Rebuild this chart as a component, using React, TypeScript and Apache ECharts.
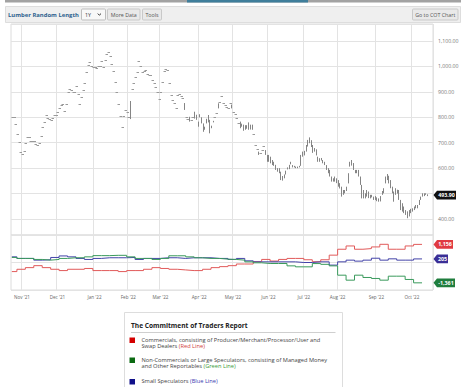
import React, { useEffect, useRef } from "react";
import * as echarts from "echarts";

type Day = number | [number, number];

// ---- price (Lumber Random Length, daily, low/high per trading day) ----
const monthLabels = ["Oct '21", "Nov '21", "Dec '21", "Jan '22", "Feb '22", "Mar '22", "Apr '22", "May '22", "Jun '22", "Jul '22", "Aug '22", "Sep '22", "Oct '22"];

const oct21: Day[] = [800, 800, 774, 734, 702, 665];
const nov21: Day[] = [656, 669, 698, 721, 724, 707, 707, 705, 695, 691, 700, 727, 760, 783, 809, 796, 794, 790, 796, 809, 809];
const dec21: Day[] = [820, 835, 848, 852, 826, 852, 901, 910, 907, 898, 901, 924, 890, 852, 881, 907, 936, 979, 1006, 1019, 1003, 999];
const jan22: Day[] = [996, 995, 1000, 1000, 1023, 996, 1025, 1050, 1058, 1040, 1010, 983, 940, 898, 851, 806, 760, 806, 829, 822];
const feb22: Day[] = [802, [793, 864], 910, 935, 957, 977, 1023, 1002, 980, 983, 986, 972, 965, 967, 947, 934, 920, 901, 871];
const mar22: Day[] = [901, 940, 983, 990, 987, 934, 888, 868, 855, 835, 888, 892, 884, 875, [829, 856], 802, 793, [783, 802], 790, 802, [795, 822], [790, 810], [763, 783]];
const apr22: Day[] = [[800, 812], [776, 800], [743, 776], [751, 763], [776, 794], [780, 809], [737, 790], [757, 767], [780, 786], 802, 816, [835, 855], 860, 884, 855, 848, 840, 835, 857, [835, 850]];
const may22: Day[] = [822, 813, 796, 776, [757, 783], [763, 775], [747, 771], [751, 769], [755, 769], [751, 780], [752, 771], [751, 771], 735, 691, 674, [652, 665], 661, 671, 687, [652, 671], [625, 652]];
const jun22: Day[] = [[625, 652], [619, 645], [612, 632], [609, 625], [593, 613], [586, 600], [580, 600], [553, 586], [551, 569], [560, 575], [575, 590], [595, 603], [596, 613], [615, 625], [603, 612], [603, 609], [600, 606], [600, 606], [603, 609], [609, 652], [645, 665]];
const jul22: Day[] = [[650, 668], [665, 691], [685, 711], [698, 721], [683, 710], [660, 691], [665, 679], [650, 674], [625, 645], [625, 639], [630, 640], [619, 632], [612, 625], [593, 612], [580, 600], [567, 593], [547, 567], [547, 560], [547, 567], [541, 560]];
const aug22: Day[] = [[527, 553], [520, 541], [488, 527], [495, 514], [501, 514], [510, 527], [540, 580], [606, 625], [610, 632], [593, 620], [580, 593], [580, 593], [567, 593], [534, 567], [481, 534], [481, 514], [481, 501], [488, 514], [482, 508], [481, 495], [485, 495], [475, 488], [475, 490]];
const sep22: Day[] = [[470, 485], [468, 481], [469, 490], [495, 510], [501, 521], [540, 567], [553, 577], [540, 570], [521, 553], [501, 527], [468, 508], [495, 521], [500, 515], [475, 514], [435, 475], [429, 462], [423, 449], [416, 435], [403, 430], [410, 435], [423, 440]];
const oct22: Day[] = [[429, 442], [435, 449], [442, 455], [442, 455], [455, 475], [475, 488], [488, 501], [490, 501], [495, 501], [490, 497]];
const priceMonths: Day[][] = [oct21, nov21, dec21, jan22, feb22, mar22, apr22, may22, jun22, jul22, aug22, sep22, oct22];
const lastPrice = 493.9;
const emptyDaysAfter = 3;

// ---- Commitment of Traders, weekly net positions ----
const cotRed = [-625, -473, -366, -237, -366, -473, -559, -473, -473, -420, -559, -559, -559, -625, -559, -559, -473, -366, -420, -473, -516, -559, -559, -473, -366, -301, -237, -129, -129, 22, 172, 65, 172, 237, 237, 150, 22, 150, 451, 838, 1053, 838, 881, 989, 1161, 838, 838, 1053, 1156];
const cotGreen = [300, 236, 236, 170, 124, 170, 236, 280, 280, 340, 420, 420, 440, 440, 340, 236, 236, 170, 236, 410, 410, 340, 280, 236, 236, 190, 170, 124, 13, -50, -95, -95, -95, -250, -314, -314, -100, -150, -250, -860, -1186, -860, -1010, -1075, -1186, -925, -925, -1140, -1361];
const cotBlue = [340, 236, 236, 124, 150, 300, 400, 340, 236, 170, 236, 280, 280, 280, 300, 170, 236, 236, 280, 280, 236, 280, 280, 280, 236, 236, 170, 236, 80, 13, 13, 13, 13, 13, -30, -30, 13, 13, -200, 13, 124, 60, 124, 250, 124, 210, 124, 124, 205];
const cotColors = { red: "#e15a5a", green: "#3a9a5c", blue: "#4343a8" };
const tagColors = { price: "#111111", red: "#e03a42", green: "#1f7d3d", blue: "#3b2f96" };

const legendItems = [
  { color: "#d40000", lines: ["Commercials, consisting of Producer/Merchant/Processor/User and", "Swap Dealers {c|(Red Line)}"], tint: "#d04040" },
  { color: "#0b6a12", lines: ["Non-Commercials or Large Speculators, consisting of Managed Money", "and Other Reportables {c|(Green Line)}"], tint: "#3a9a3a" },
  { color: "#10108a", lines: ["Small Speculators {c|(Blue Line)}"], tint: "#3a3ab0" },
];

const FONT = '"Open Sans", "Noto Sans", sans-serif';
const fmt = (v: number, d: number) => v.toLocaleString("en-US", { minimumFractionDigits: d, maximumFractionDigits: d });

export default function App() {
  const ref = useRef<HTMLDivElement>(null);
  useEffect(() => {
    const el = ref.current!;
    const chart = echarts.init(el, undefined, { renderer: "svg" });

    const categories: string[] = [];
    const monthStart = new Set<number>();
    const labelAt: Record<number, string> = {};
    const priceData: number[][] = [];
    priceMonths.forEach((m, mi) =>
      m.forEach((d, di) => {
        const idx = categories.length;
        if (di === 0 && mi > 0) {
          monthStart.add(idx);
          labelAt[idx] = monthLabels[mi];
        }
        categories.push(`${monthLabels[mi]} #${di + 1}`);
        const [lo, hi] = Array.isArray(d) ? d : [d, d];
        priceData.push([idx, lo, hi]);
      })
    );
    for (let k = 0; k < emptyDaysAfter; k++) categories.push(`next #${k + 1}`);

    const cotPts = (vals: number[]) => [
      ...vals.map((v, k) => [Math.max(0, k * 5 - 2), v]),
      [(vals.length - 1) * 5 + 3, vals[vals.length - 1]],
    ];

    const xAxisFor = (gi: number, labels: boolean) => ({
      type: "category",
      gridIndex: gi,
      data: categories,
      boundaryGap: true,
      axisLine: { show: false },
      axisTick: { show: false },
      splitLine: { show: true, interval: (i: number) => monthStart.has(i), lineStyle: { color: "#e3e3e3", width: 1 } },
      axisLabel: labels
        ? { show: true, interval: (i: number) => monthStart.has(i), formatter: (_v: string, i: number) => labelAt[i] ?? "", fontSize: 4.6, color: "#666", fontFamily: FONT, margin: 4 }
        : { show: false },
    });

    chart.setOption({
      animation: false,
      textStyle: { fontFamily: FONT },
      grid: [
        { left: 11, right: 41, top: 24, height: 211, show: true, borderColor: "#dcdcdc", borderWidth: 1, backgroundColor: "#fff" },
        { left: 11, right: 41, top: 235, height: 55, show: true, borderColor: "#dcdcdc", borderWidth: 1, backgroundColor: "#fff" },
      ],
      xAxis: [xAxisFor(0, false), xAxisFor(1, true)],
      yAxis: [
        {
          type: "value", gridIndex: 0, position: "right", min: 337, max: 1167, splitNumber: 8,
          axisLine: { show: false }, axisTick: { show: false },
          splitLine: { show: true, lineStyle: { color: "#e3e3e3" } },
          axisLabel: { fontSize: 5.2, color: "#777", fontFamily: FONT, margin: 5, showMinLabel: false, showMaxLabel: false, formatter: (v: number) => (v % 100 === 0 ? fmt(v, 2) : "") },
        },
        {
          type: "value", gridIndex: 1, position: "right", min: -1830, max: 1770, interval: 1830,
          axisLine: { show: false }, axisTick: { show: false }, axisLabel: { show: false },
          splitLine: { show: true, lineStyle: { color: "#e3e3e3" } },
        },
      ],
      series: [
        {
          type: "custom",
          name: "Lumber Random Length",
          xAxisIndex: 0,
          yAxisIndex: 0,
          data: priceData,
          encode: { x: 0, y: [1, 2] },
          silent: true,
          renderItem: (_p: any, api: any) => {
            const i = api.value(0);
            const lo = api.value(1);
            const hi = api.value(2);
            const a = api.coord([i, hi]);
            const b = api.coord([i, lo]);
            const x = Math.round(a[0]) + 0.5;
            if (b[1] - a[1] < 1.5) {
              const y = Math.round(a[1]) + 0.5;
              return { type: "line", shape: { x1: x - 1, y1: y, x2: x + 1.5, y2: y }, style: { stroke: "#9a9a9a", lineWidth: 1, fill: null } };
            }
            return { type: "line", shape: { x1: x, y1: a[1], x2: x, y2: b[1] }, style: { stroke: "#858585", lineWidth: 1, fill: null } };
          },
        },
        { type: "line", name: "Commercials", xAxisIndex: 1, yAxisIndex: 1, step: "end", symbol: "none", silent: true, data: cotPts(cotRed), lineStyle: { color: cotColors.red, width: 1 } },
        { type: "line", name: "Small Speculators", xAxisIndex: 1, yAxisIndex: 1, step: "end", symbol: "none", silent: true, data: cotPts(cotBlue), lineStyle: { color: cotColors.blue, width: 1 } },
        { type: "line", name: "Non-Commercials", xAxisIndex: 1, yAxisIndex: 1, step: "end", symbol: "none", silent: true, data: cotPts(cotGreen), lineStyle: { color: cotColors.green, width: 1 } },
      ],
    });

    // ---- page furniture & value tags ----
    const T = (x: number, y: number, text: string, o: any = {}) => ({
      type: "text", x, y, silent: true, z: 10,
      style: {
        text, fill: o.fill ?? "#444", fontSize: o.size ?? 5.6, fontWeight: o.weight ?? "normal", fontFamily: FONT,
        align: o.align ?? "left", verticalAlign: "middle", rich: o.rich,
      },
    });
    const R = (x: number, y: number, w: number, h: number, fill: string, stroke?: string, r = 0) => ({
      type: "rect", silent: true, z: 9, shape: { x, y, width: w, height: h, r }, style: { fill, stroke: stroke ?? null, lineWidth: 1 },
    });
    const tag = (yVal: number, axis: number, text: string, color: string, w: number) => {
      const y = chart.convertToPixel({ yAxisIndex: axis } as any, yVal) as number;
      const x0 = 433.5;
      return [
        { type: "polygon", silent: true, z: 11, shape: { points: [[x0, y], [x0 + 3.5, y - 4.3], [x0 + 3.5 + w, y - 4.3], [x0 + 3.5 + w, y + 4.3], [x0 + 3.5, y + 4.3]] }, style: { fill: color } },
        { type: "text", silent: true, z: 12, x: x0 + 3.5 + w / 2, y, style: { text, fill: "#fff", fontSize: 5.3, fontWeight: "bold", fontFamily: FONT, align: "center", verticalAlign: "middle" } },
      ];
    };

    const g: any[] = [
      R(5, 0, 456, 2.5, "#a2a2a2"),
      R(187, 0, 121, 2.5, "#3f7e9b"),
      R(5.5, 6.5, 455, 16, "#efefef", "#dddddd"),
      T(8, 14.6, "Lumber Random Length", { fill: "#2e5f8e", weight: "bold", size: 5.9 }),
      R(81.5, 9, 24, 11, "#f8f8f8", "#bdbdbd", 1),
      T(85, 14.6, "1Y", { fill: "#333", size: 5.3 }),
      { type: "polyline", silent: true, z: 10, shape: { points: [[97.8, 13.6], [99.4, 15.2], [101, 13.6]] }, style: { stroke: "#333", lineWidth: 1, fill: null } },
      R(107.5, 9, 32.5, 11, "#e9e9e9", "#c9c9c9", 1),
      T(123.75, 14.6, "More Data", { fill: "#555", size: 5.3, align: "center" }),
      R(142.5, 9, 19, 11, "#e9e9e9", "#c9c9c9", 1),
      T(152, 14.6, "Tools", { fill: "#555", size: 5.3, align: "center" }),
      R(412.5, 9, 45.5, 11, "#e9e9e9", "#c9c9c9", 1),
      T(435.25, 14.6, "Go to COT Chart", { fill: "#555", size: 5.3, align: "center" }),
      // legend box
      R(124.5, 312.5, 218, 80, "#ffffff", "#dddddd"),
      T(131, 325, "The Commitment of Traders Report", { fill: "#222", weight: "bold", size: 6.6 }),
      { type: "line", silent: true, z: 10, shape: { x1: 131, y1: 332.5, x2: 335.5, y2: 332.5 }, style: { stroke: "#cfcfcf", lineWidth: 1 } },
    ];
    const itemTops = [337.5, 357.5, 379];
    legendItems.forEach((it, k) => {
      const top = itemTops[k];
      g.push(R(129.5, top, 5.5, 5.5, it.color));
      it.lines.forEach((ln, j) =>
        g.push(T(141.5, top + 2 + j * 6.6, ln, { fill: "#444", size: 5.7, rich: { c: { fill: it.tint, fontSize: 5.7, fontFamily: FONT } } }))
      );
    });
    g.push(...tag(lastPrice, 0, fmt(lastPrice, 2), tagColors.price, 19));
    g.push(...tag(cotRed[cotRed.length - 1], 1, fmt(cotRed[cotRed.length - 1], 0), tagColors.red, 16));
    g.push(...tag(cotBlue[cotBlue.length - 1], 1, fmt(cotBlue[cotBlue.length - 1], 0), tagColors.blue, 11));
    g.push(...tag(cotGreen[cotGreen.length - 1], 1, fmt(cotGreen[cotGreen.length - 1], 0), tagColors.green, 18));
    chart.setOption({ graphic: g });

    return () => chart.dispose();
  }, []);

  return <div ref={ref} style={{ position: "fixed", left: 0, top: 0, width: 474, height: 387, background: "#fff" }} />;
}
